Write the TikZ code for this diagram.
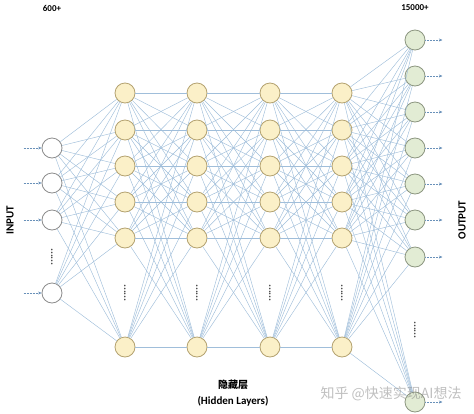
\documentclass[tikz,border=0pt]{standalone}
\usepackage{fontspec}
\setmainfont{Carlito}
\newfontfamily\cjk{Noto Sans CJK SC}
\usetikzlibrary{arrows.meta}
\definecolor{linkblue}{RGB}{160,190,218}
\definecolor{arrowblue}{RGB}{105,145,185}
\definecolor{hidfill}{RGB}{251,240,200}
\definecolor{hiddraw}{RGB}{180,162,112}
\definecolor{outfill}{RGB}{226,236,212}
\definecolor{outdraw}{RGB}{140,150,128}
\begin{document}
\begin{tikzpicture}[x=1pt, y=-1pt,
    innode/.style={circle, draw=gray!90, line width=0.8pt, fill=white,
        minimum size=20pt, inner sep=0pt},
    hidnode/.style={circle, draw=hiddraw, line width=0.8pt, fill=hidfill,
        minimum size=20pt, inner sep=0pt},
    outnode/.style={circle, draw=outdraw, line width=0.8pt, fill=outfill,
        minimum size=20pt, inner sep=0pt},
    vdots/.style={rotate=90, inner sep=0pt, text=black!70,
        font=\bfseries\fontsize{11}{13}\selectfont},
    link/.style={linkblue, line width=0.45pt},
    feed/.style={arrowblue, densely dotted, line width=0.5pt,
        -{Stealth[length=3.5pt, width=3pt]}},
    label/.style={font=\bfseries\fontsize{11}{13}\selectfont}
]
    \useasboundingbox (0,0) rectangle (474,413);
    % input layer
    \node[innode] (i1) at (52,148) {};
    \node[innode] (i2) at (52,183) {};
    \node[innode] (i3) at (52,220) {};
    \node[innode] (i4) at (52,293) {};
    \node[vdots] (idots) at (52,257) {......};
    % hidden layers
    \foreach \l/\x in {1/125, 2/197, 3/270, 4/342} {
        \node[hidnode] (h\l1) at (\x,93) {};
        \node[hidnode] (h\l2) at (\x,130) {};
        \node[hidnode] (h\l3) at (\x,166) {};
        \node[hidnode] (h\l4) at (\x,202) {};
        \node[hidnode] (h\l5) at (\x,238) {};
        \node[hidnode] (h\l6) at (\x,347) {};
        \node[vdots] (hdots\l) at (\x,293) {......};
    }
    % output layer
    \node[outnode] (o1) at (415,40) {};
    \node[outnode] (o2) at (415,76) {};
    \node[outnode] (o3) at (415,112) {};
    \node[outnode] (o4) at (415,148) {};
    \node[outnode] (o5) at (415,184) {};
    \node[outnode] (o6) at (415,220) {};
    \node[outnode] (o7) at (415,257) {};
    \node[outnode] (o8) at (415,402) {};
    \node[vdots] (odots) at (415,330) {......};
    % connections
    \foreach \a in {1,...,4}
        \foreach \b in {1,...,6}
            \draw[link] (i\a) -- (h1\b);
    \foreach \l/\m in {1/2, 2/3, 3/4}
        \foreach \a in {1,...,6}
            \foreach \b in {1,...,6}
                \draw[link] (h\l\a) -- (h\m\b);
    \foreach \a in {1,...,6}
        \foreach \b in {1,...,8}
            \draw[link] (h4\a) -- (o\b);
    % inputs and outputs
    \foreach \a in {1,...,4} {
        \coordinate (src\a) at ([xshift=-18pt]i\a.west);
        \draw[feed] (src\a) -- (i\a);
    }
    \foreach \a in {1,...,8} {
        \coordinate (dst\a) at ([xshift=17pt]o\a.east);
        \draw[feed] (o\a) -- (dst\a);
    }
    % labels
    \node[label, font=\bfseries\small] (nin) at (52,8) {600+};
    \node[label, font=\bfseries\small] (nout) at (415,8) {15000+};
    \node[label, rotate=90] (tin) at (10,220) {INPUT};
    \node[label, rotate=90] (tout) at (462,220) {OUTPUT};
    \node[font=\cjk\bfseries\fontsize{10}{12}\selectfont] (tcn) at (233,385) {隐藏层};
    \node[label] (ten) at (233,401) {(Hidden Layers)};
    \node[font=\cjk\fontsize{14}{16}\selectfont, text=gray, opacity=0.5] (mark) at (391,394) {知乎 @快速实现AI想法};
\end{tikzpicture}
\end{document}
